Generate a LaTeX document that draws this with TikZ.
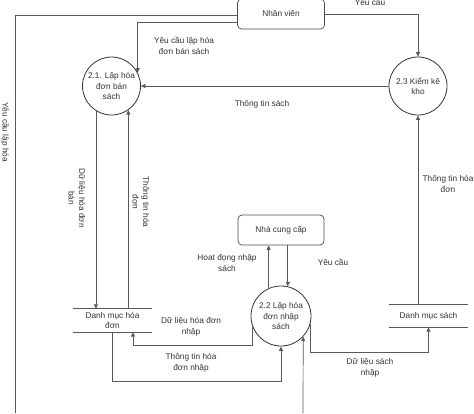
\documentclass[tikz,border=0pt]{standalone}
\usepackage{fontspec}
\setmainfont{Liberation Sans}
\usetikzlibrary{arrows.meta,calc}
\begin{document}
\begin{tikzpicture}[x=1pt,y=-1pt,
  every node/.style={font=\fontsize{8.3}{10.5}\selectfont, text=black!80, inner sep=0pt},
  proc/.style={circle, draw=black!80, line width=0.8pt, minimum size=58pt, align=center},
  ent/.style={rectangle, rounded corners=4pt, draw=black!70, line width=0.7pt, align=center},
  store/.style={rectangle, minimum width=79pt, minimum height=23pt, align=center},
  flow/.style={draw=black!65, line width=0.7pt},
  arr/.style={flow, -{Triangle[length=4.5pt,width=4pt]}},
  lbl/.style={align=center}]
\useasboundingbox (0,0) rectangle (474,413);

% entities
\node[ent, minimum width=87pt, minimum height=30pt] (nv) at (281,14) {Nhân viên};
\node[ent, minimum width=86pt, minimum height=30pt] (ncc) at (281,230) {Nhà cung cấp};

% processes
\node[proc] (c21) at (111.5,86) {2.1. Lập hóa\\đơn bán\\sách};
\node[proc] (c23) at (418,86) {2.3 Kiểm kê\\kho};
\node[proc, minimum size=60pt] (c22) at (281,316) {2.2 Lập hóa\\đơn nhập\\sách};

% data stores
\node[store] (dmhd) at (112.5,320.5) {Danh mục hóa\\đơn};
\node[store, minimum height=22pt] (dms) at (428.5,316) {Danh mục sách};
\foreach \s in {dmhd,dms}{
  \draw[flow] (\s.north west) -- (\s.north east);
  \draw[flow] (\s.south west) -- (\s.south east);
}

% free ends
\coordinate (e1) at (15,413);
\coordinate (e2) at (303,413);
\coordinate (dmhdin) at ($(dmhd.south)+(20.5,0)$);

% connectors
\draw[flow] (e1) |- ($(nv.west)+(0,1)$);
\draw[arr] ($(nv.west)+(0,8)$) -| (c21.27);
\draw[arr] (nv.east) -| (c23.north);
\draw[arr] (c23.west) -- (c21.east);
\draw[arr] (c21.-122) -- (c21.-122 |- dmhd.north);
\draw[arr] (c21.-55 |- dmhd.north) -- (c21.-55);
\draw[arr] (c23.south |- dms.north) -- (c23.south);
\draw[arr] (c22.114) -- (c22.114 |- ncc.south);
\draw[arr] (c22.77 |- ncc.south) -- (c22.77);
\draw[arr] (c22.201) -- ++(0,18) -| (dmhdin);
\draw[arr] (dmhd.south) -- ++(0,49) -| (c22.south);
\draw[arr] (e2) -- (c22.-43);
\draw[arr] (c22.-15) -- ++(0,28) -| (dms.south);

% labels
\node[lbl] (l1) at (370,2) {Yêu cầu};
\node[lbl] (l2) at (184,46) {Yêu cầu lập hóa\\đơn bán sách};
\node[lbl] (l3) at (262,104) {Thông tin sách};
\node[lbl, rotate=-90] (l4) at (77,198) {Dữ liệu hóa đơn\\bán};
\node[lbl, rotate=-90] (l5) at (141,202) {Thông tin hóa\\đơn};
\node[lbl, rotate=-90] (l6) at (5,132) {Yêu cầu lập hóa};
\node[lbl] (l7) at (448,184) {Thông tin hóa\\đơn};
\node[lbl] (l8) at (227,263) {Hoat đọng nhập\\sách};
\node[lbl] (l9) at (333,262) {Yêu cầu};
\node[lbl] (l10) at (191,327) {Dữ liệu hóa đơn\\nhập};
\node[lbl] (l11) at (191,363) {Thông tin hóa\\đơn nhập};
\node[lbl] (l12) at (370,368) {Dữ liệu sách\\nhập};
\end{tikzpicture}
\end{document}
